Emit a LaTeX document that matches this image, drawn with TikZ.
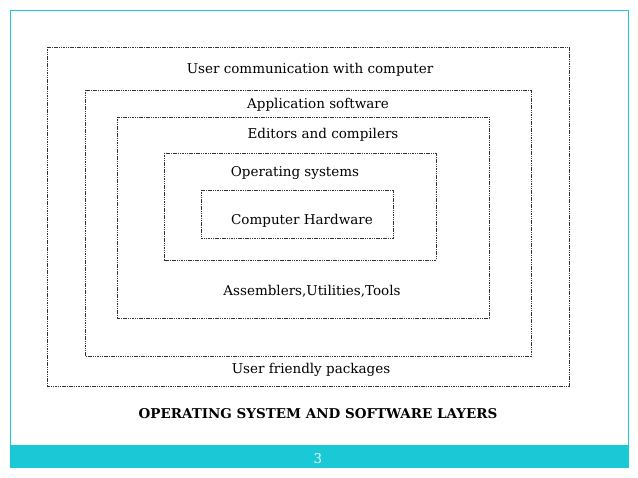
\documentclass[tikz,border=0pt]{standalone}
\usepackage{fontspec}
\setmainfont{DejaVu Serif}
\definecolor{cy}{HTML}{1BC8D6}
\begin{document}
\begin{tikzpicture}[x=1pt,y=-1pt,
  layer/.style={draw=black!80,dashed,dash pattern=on 1.5pt off 0.8pt,line width=0.6pt},
  lbl/.style={font=\fontsize{13.5}{16}\selectfont,inner sep=0pt}]
\useasboundingbox (0,0) rectangle (638,478);
\fill[white] (0,0) rectangle (638,478);
\draw[cy,line width=0.6pt] (10,10) rectangle (628,467);
\fill[cy] (10,445) rectangle (628,467);
\draw[layer] (47,47) rectangle (569,386);
\draw[layer] (85,90) rectangle (531,356);
\draw[layer] (117,117) rectangle (489,318);
\draw[layer] (164,153) rectangle (436,260);
\draw[layer] (201,190) rectangle (393,238);
\node[lbl] (t1) at (310,70) {User communication with computer};
\node[lbl] (t2) at (318,105) {Application software};
\node[lbl] (t3) at (323,135) {Editors and compilers};
\node[lbl] (t4) at (295,173) {Operating systems};
\node[lbl] (t5) at (302,221) {Computer Hardware};
\node[lbl] (t6) at (312,291) {Assemblers,Utilities,Tools};
\node[lbl] (t7) at (311,370) {User friendly packages};
\node[lbl,font=\fontsize{13.5}{16}\selectfont\bfseries] (t8) at (318,414) {OPERATING SYSTEM AND SOFTWARE LAYERS};
\node[lbl,text=white!90!cy] (pg) at (318,459) {3};
\end{tikzpicture}
\end{document}
